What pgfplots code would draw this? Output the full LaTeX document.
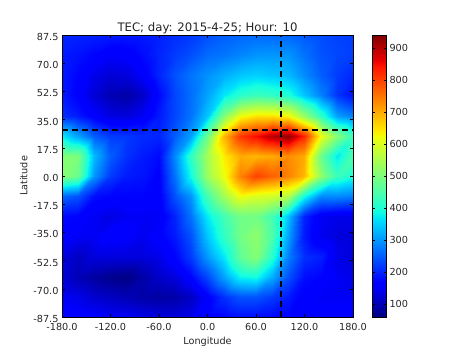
\documentclass[border=0pt]{standalone}
\usepackage{fontspec}
\setmainfont{DejaVu Sans}
\usepackage{pgfplots}
\pgfplotsset{compat=1.18}
\usepackage{pgfplotstable}
\begin{document}
\begin{tikzpicture}[x=1pt,y=1pt]
\useasboundingbox (-62,-36) rectangle (412,317);
\begin{axis}[
  at={(0,0)},anchor=south west,
  scale only axis,width=291pt,height=282pt,
  xmin=-180,xmax=180,ymin=-87.5,ymax=87.5,
  axis on top,
  axis line style={black,line width=0.6pt},
  tick style={black,line width=0.4pt},
  tick align=inside,major tick length=3pt,
  xtick={-180,-120,-60,0,60,120,180},
  xticklabels={-180.0,-120.0,-60.0,0.0,60.0,120.0,180.0},
  ytick={-87.5,-70,-52.5,-35,-17.5,0,17.5,35,52.5,70,87.5},
  yticklabels={-87.5,-70.0,-52.5,-35.0,-17.5,0.0,17.5,35.0,52.5,70.0,87.5},
  tick label style={font=\fontsize{9.7}{11}\selectfont,text=black!85},
  xticklabel style={yshift=-3pt},
  yticklabel style={yshift=-2pt},
  label style={font=\fontsize{9.7}{11}\selectfont,text=black!85},
  xlabel={Longitude},ylabel={Latitude},
  xlabel style={yshift=1pt},ylabel style={yshift=-1pt},
  title={TEC; day: 2015-4-25; Hour: 10},
  title style={font=\fontsize{11.7}{13}\selectfont,text=black!85,yshift=-8pt},
  colormap={mpljet}{rgb(0pt)=(0,0,.5) rgb(11pt)=(0,0,1) rgb(12.5pt)=(0,0,1) rgb(34pt)=(0,.86,1) rgb(35pt)=(0,.9,.97) rgb(37.5pt)=(.08,1,.88) rgb(64pt)=(.94,1,.04) rgb(65pt)=(.97,.96,0) rgb(66pt)=(1,.92,0) rgb(89pt)=(1,.07,0) rgb(91pt)=(.91,0,0) rgb(100pt)=(.5,0,0)},
  point meta min=59,point meta max=941,
  colorbar,
  colorbar style={
    at={(1.0653,0)},anchor=south west,
    width=14pt,height=282pt,
    ytick={100,200,...,900},
    yticklabel pos=right,
    major tick length=2.5pt,
    yticklabel style={font=\fontsize{9.7}{11}\selectfont,text=black!85,yshift=0pt,/pgf/number format/assume math mode=true},
  },
]
\addplot[surf,shader=interp,mesh/cols=19,mesh/ordering=x varies,point meta=\thisrow{z}] table {
x y z
-180 87.5 200
-160 87.5 198
-140 87.5 195
-120 87.5 192
-100 87.5 190
-80 87.5 192
-60 87.5 198
-40 87.5 208
-20 87.5 218
0 87.5 235
20 87.5 250
40 87.5 258
60 87.5 262
80 87.5 260
100 87.5 255
120 87.5 245
140 87.5 235
160 87.5 225
180 87.5 220
-180 75 190
-160 75 182
-140 75 170
-120 75 155
-100 75 160
-80 75 178
-60 75 200
-40 75 220
-20 75 238
0 75 262
20 75 272
40 75 285
60 75 298
80 75 300
100 75 298
120 75 268
140 75 240
160 75 230
180 75 222
-180 62.5 190
-160 62.5 170
-140 62.5 140
-120 62.5 125
-100 62.5 130
-80 62.5 160
-60 62.5 200
-40 62.5 240
-20 62.5 270
0 62.5 295
20 62.5 320
40 62.5 340
60 62.5 350
80 62.5 340
100 62.5 330
120 62.5 290
140 62.5 250
160 62.5 220
180 62.5 200
-180 50 190
-160 50 165
-140 50 125
-120 50 100
-100 50 88
-80 50 115
-60 50 175
-40 50 230
-20 50 265
0 50 310
20 50 370
40 50 410
60 50 430
80 50 420
100 50 400
120 50 340
140 50 280
160 50 215
180 50 180
-180 37.5 210
-160 37.5 190
-140 37.5 160
-120 37.5 135
-100 37.5 130
-80 37.5 150
-60 37.5 190
-40 37.5 230
-20 37.5 270
0 37.5 340
20 37.5 510
40 37.5 620
60 37.5 650
80 37.5 650
100 37.5 630
120 37.5 530
140 37.5 420
160 37.5 310
180 37.5 280
-180 25 370
-160 25 310
-140 25 250
-120 25 220
-100 25 215
-80 25 205
-60 25 200
-40 25 250
-20 25 310
0 25 480
20 25 690
40 25 810
60 25 850
80 25 900
100 25 930
120 25 830
140 25 620
160 25 510
180 25 430
-180 12.5 510
-160 12.5 500
-140 12.5 330
-120 12.5 250
-100 12.5 210
-80 12.5 190
-60 12.5 175
-40 12.5 290
-20 12.5 420
0 12.5 540
20 12.5 640
40 12.5 700
60 12.5 690
80 12.5 700
100 12.5 730
120 12.5 700
140 12.5 480
160 12.5 370
180 12.5 450
-180 0 510
-160 0 480
-140 0 300
-120 0 220
-100 0 190
-80 0 185
-60 0 165
-40 0 270
-20 0 390
0 0 530
20 0 620
40 0 740
60 0 800
80 0 770
100 0 740
120 0 690
140 0 520
160 0 430
180 0 400
-180 -12.5 260
-160 -12.5 240
-140 -12.5 180
-120 -12.5 170
-100 -12.5 170
-80 -12.5 170
-60 -12.5 160
-40 -12.5 240
-20 -12.5 300
0 -12.5 440
20 -12.5 540
40 -12.5 620
60 -12.5 600
80 -12.5 590
100 -12.5 560
120 -12.5 390
140 -12.5 290
160 -12.5 290
180 -12.5 280
-180 -25 175
-160 -25 170
-140 -25 150
-120 -25 135
-100 -25 150
-80 -25 150
-60 -25 150
-40 -25 200
-20 -25 270
0 -25 370
20 -25 440
40 -25 490
60 -25 490
80 -25 440
100 -25 340
120 -25 200
140 -25 150
160 -25 140
180 -25 140
-180 -37.5 165
-160 -37.5 150
-140 -37.5 150
-120 -37.5 165
-100 -37.5 160
-80 -37.5 145
-60 -37.5 165
-40 -37.5 190
-20 -37.5 240
0 -37.5 340
20 -37.5 420
40 -37.5 490
60 -37.5 520
80 -37.5 450
100 -37.5 310
120 -37.5 190
140 -37.5 145
160 -37.5 130
180 -37.5 130
-180 -50 130
-160 -50 110
-140 -50 130
-120 -50 130
-100 -50 130
-80 -50 130
-60 -50 140
-40 -50 170
-20 -50 220
0 -50 300
20 -50 370
40 -50 470
60 -50 510
80 -50 410
100 -50 280
120 -50 210
140 -50 195
160 -50 140
180 -50 125
-180 -62.5 125
-160 -62.5 100
-140 -62.5 85
-120 -62.5 70
-100 -62.5 62
-80 -62.5 90
-60 -62.5 115
-40 -62.5 130
-20 -62.5 170
0 -62.5 230
20 -62.5 310
40 -62.5 380
60 -62.5 390
80 -62.5 320
100 -62.5 240
120 -62.5 180
140 -62.5 170
160 -62.5 150
180 -62.5 140
-180 -75 150
-160 -75 140
-140 -75 120
-120 -75 110
-100 -75 100
-80 -75 90
-60 -75 85
-40 -75 90
-20 -75 110
0 -75 160
20 -75 210
40 -75 240
60 -75 240
80 -75 220
100 -75 190
120 -75 160
140 -75 150
160 -75 150
180 -75 150
-180 -87.5 165
-160 -87.5 165
-140 -87.5 160
-120 -87.5 150
-100 -87.5 150
-80 -87.5 140
-60 -87.5 130
-40 -87.5 130
-20 -87.5 140
0 -87.5 160
20 -87.5 170
40 -87.5 180
60 -87.5 180
80 -87.5 175
100 -87.5 170
120 -87.5 165
140 -87.5 165
160 -87.5 165
180 -87.5 165
};
\addplot[black,line width=1.6pt,dash pattern=on 6pt off 4pt] coordinates {(-180,28.5) (180,28.5)};
\addplot[black,line width=1.6pt,dash pattern=on 6pt off 4pt] coordinates {(91,-87.5) (91,87.5)};
\end{axis}
\end{tikzpicture}
\end{document}
